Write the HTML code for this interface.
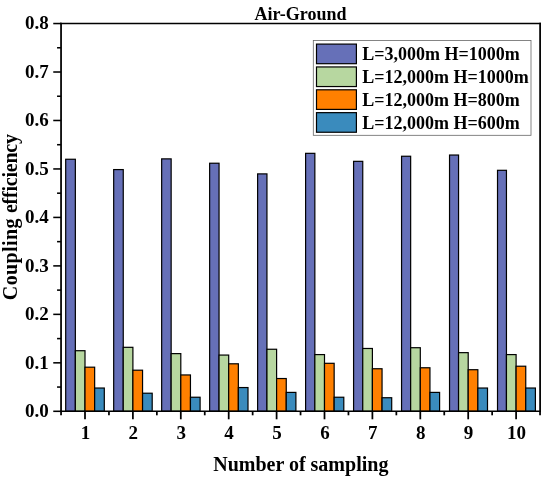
<!DOCTYPE html><html><head><meta charset="utf-8"><title>Air-Ground</title><style>html,body{margin:0;padding:0;background:#fff}svg{display:block}text{font-variant-ligatures:none;font-family:"Liberation Serif","Times New Roman",serif;font-weight:bold;fill:#000}</style></head><body>
<svg width="550" height="483" viewBox="0 0 550 483">
<rect width="550" height="483" fill="#fff"/>
<rect x="65.70" y="159.26" width="9.65" height="252.04" fill="#6670b8" stroke="#000" stroke-width="1.2"/>
<rect x="75.35" y="350.71" width="9.65" height="60.59" fill="#b7d7a0" stroke="#000" stroke-width="1.2"/>
<rect x="85.00" y="367.19" width="9.65" height="44.11" fill="#ff8000" stroke="#000" stroke-width="1.2"/>
<rect x="94.65" y="388.03" width="9.65" height="23.27" fill="#3a8bbd" stroke="#000" stroke-width="1.2"/>
<rect x="113.68" y="169.58" width="9.57" height="241.72" fill="#6670b8" stroke="#000" stroke-width="1.2"/>
<rect x="123.25" y="347.32" width="9.65" height="63.98" fill="#b7d7a0" stroke="#000" stroke-width="1.2"/>
<rect x="132.90" y="370.20" width="9.65" height="41.10" fill="#ff8000" stroke="#000" stroke-width="1.2"/>
<rect x="142.55" y="393.22" width="9.65" height="18.08" fill="#3a8bbd" stroke="#000" stroke-width="1.2"/>
<rect x="161.66" y="158.87" width="9.49" height="252.43" fill="#6670b8" stroke="#000" stroke-width="1.2"/>
<rect x="171.15" y="353.62" width="9.65" height="57.68" fill="#b7d7a0" stroke="#000" stroke-width="1.2"/>
<rect x="180.80" y="374.95" width="9.65" height="36.35" fill="#ff8000" stroke="#000" stroke-width="1.2"/>
<rect x="190.45" y="397.24" width="9.65" height="14.06" fill="#3a8bbd" stroke="#000" stroke-width="1.2"/>
<rect x="209.64" y="163.23" width="9.41" height="248.07" fill="#6670b8" stroke="#000" stroke-width="1.2"/>
<rect x="219.05" y="355.07" width="9.65" height="56.23" fill="#b7d7a0" stroke="#000" stroke-width="1.2"/>
<rect x="228.70" y="363.80" width="9.65" height="47.50" fill="#ff8000" stroke="#000" stroke-width="1.2"/>
<rect x="238.35" y="387.55" width="9.65" height="23.75" fill="#3a8bbd" stroke="#000" stroke-width="1.2"/>
<rect x="257.62" y="173.89" width="9.33" height="237.41" fill="#6670b8" stroke="#000" stroke-width="1.2"/>
<rect x="266.95" y="349.26" width="9.65" height="62.04" fill="#b7d7a0" stroke="#000" stroke-width="1.2"/>
<rect x="276.60" y="378.53" width="9.65" height="32.77" fill="#ff8000" stroke="#000" stroke-width="1.2"/>
<rect x="286.25" y="392.40" width="9.65" height="18.90" fill="#3a8bbd" stroke="#000" stroke-width="1.2"/>
<rect x="305.60" y="153.34" width="9.25" height="257.96" fill="#6670b8" stroke="#000" stroke-width="1.2"/>
<rect x="314.85" y="354.59" width="9.65" height="56.71" fill="#b7d7a0" stroke="#000" stroke-width="1.2"/>
<rect x="324.50" y="363.31" width="9.65" height="47.99" fill="#ff8000" stroke="#000" stroke-width="1.2"/>
<rect x="334.15" y="397.24" width="9.65" height="14.06" fill="#3a8bbd" stroke="#000" stroke-width="1.2"/>
<rect x="353.58" y="161.34" width="9.17" height="249.96" fill="#6670b8" stroke="#000" stroke-width="1.2"/>
<rect x="362.75" y="348.48" width="9.65" height="62.82" fill="#b7d7a0" stroke="#000" stroke-width="1.2"/>
<rect x="372.40" y="368.74" width="9.65" height="42.56" fill="#ff8000" stroke="#000" stroke-width="1.2"/>
<rect x="382.05" y="397.73" width="9.65" height="13.57" fill="#3a8bbd" stroke="#000" stroke-width="1.2"/>
<rect x="401.56" y="156.25" width="9.09" height="255.05" fill="#6670b8" stroke="#000" stroke-width="1.2"/>
<rect x="410.65" y="347.71" width="9.65" height="63.59" fill="#b7d7a0" stroke="#000" stroke-width="1.2"/>
<rect x="420.30" y="367.77" width="9.65" height="43.53" fill="#ff8000" stroke="#000" stroke-width="1.2"/>
<rect x="429.95" y="392.40" width="9.65" height="18.90" fill="#3a8bbd" stroke="#000" stroke-width="1.2"/>
<rect x="449.54" y="155.04" width="9.01" height="256.26" fill="#6670b8" stroke="#000" stroke-width="1.2"/>
<rect x="458.55" y="352.65" width="9.65" height="58.65" fill="#b7d7a0" stroke="#000" stroke-width="1.2"/>
<rect x="468.20" y="369.71" width="9.65" height="41.59" fill="#ff8000" stroke="#000" stroke-width="1.2"/>
<rect x="477.85" y="388.03" width="9.65" height="23.27" fill="#3a8bbd" stroke="#000" stroke-width="1.2"/>
<rect x="497.52" y="170.31" width="8.93" height="240.99" fill="#6670b8" stroke="#000" stroke-width="1.2"/>
<rect x="506.45" y="354.59" width="9.65" height="56.71" fill="#b7d7a0" stroke="#000" stroke-width="1.2"/>
<rect x="516.10" y="366.22" width="9.65" height="45.08" fill="#ff8000" stroke="#000" stroke-width="1.2"/>
<rect x="525.75" y="388.03" width="9.65" height="23.27" fill="#3a8bbd" stroke="#000" stroke-width="1.2"/>
<path d="M60.17 23.54H540.98M60.17 411.30H540.98" stroke="#000" stroke-width="1.55" fill="none"/>
<path d="M61.05 22.77V412.07M540.10 22.77V412.07" stroke="#000" stroke-width="1.75" fill="none"/>
<line x1="53.25" x2="61.05" y1="411.30" y2="411.30" stroke="#000" stroke-width="1.55"/>
<text x="48.8" y="417.20" font-size="19" text-anchor="end">0.0</text>
<line x1="57.05" x2="61.05" y1="387.06" y2="387.06" stroke="#000" stroke-width="1.55"/>
<line x1="53.25" x2="61.05" y1="362.83" y2="362.83" stroke="#000" stroke-width="1.55"/>
<text x="48.8" y="368.73" font-size="19" text-anchor="end">0.1</text>
<line x1="57.05" x2="61.05" y1="338.60" y2="338.60" stroke="#000" stroke-width="1.55"/>
<line x1="53.25" x2="61.05" y1="314.36" y2="314.36" stroke="#000" stroke-width="1.55"/>
<text x="48.8" y="320.26" font-size="19" text-anchor="end">0.2</text>
<line x1="57.05" x2="61.05" y1="290.12" y2="290.12" stroke="#000" stroke-width="1.55"/>
<line x1="53.25" x2="61.05" y1="265.89" y2="265.89" stroke="#000" stroke-width="1.55"/>
<text x="48.8" y="271.79" font-size="19" text-anchor="end">0.3</text>
<line x1="57.05" x2="61.05" y1="241.65" y2="241.65" stroke="#000" stroke-width="1.55"/>
<line x1="53.25" x2="61.05" y1="217.42" y2="217.42" stroke="#000" stroke-width="1.55"/>
<text x="48.8" y="223.32" font-size="19" text-anchor="end">0.4</text>
<line x1="57.05" x2="61.05" y1="193.19" y2="193.19" stroke="#000" stroke-width="1.55"/>
<line x1="53.25" x2="61.05" y1="168.95" y2="168.95" stroke="#000" stroke-width="1.55"/>
<text x="48.8" y="174.85" font-size="19" text-anchor="end">0.5</text>
<line x1="57.05" x2="61.05" y1="144.72" y2="144.72" stroke="#000" stroke-width="1.55"/>
<line x1="53.25" x2="61.05" y1="120.48" y2="120.48" stroke="#000" stroke-width="1.55"/>
<text x="48.8" y="126.38" font-size="19" text-anchor="end">0.6</text>
<line x1="57.05" x2="61.05" y1="96.25" y2="96.25" stroke="#000" stroke-width="1.55"/>
<line x1="53.25" x2="61.05" y1="72.01" y2="72.01" stroke="#000" stroke-width="1.55"/>
<text x="48.8" y="77.91" font-size="19" text-anchor="end">0.7</text>
<line x1="57.05" x2="61.05" y1="47.78" y2="47.78" stroke="#000" stroke-width="1.55"/>
<line x1="53.25" x2="61.05" y1="23.54" y2="23.54" stroke="#000" stroke-width="1.55"/>
<text x="48.8" y="29.44" font-size="19" text-anchor="end">0.8</text>
<line x1="85.00" x2="85.00" y1="411.30" y2="419.30" stroke="#000" stroke-width="1.75"/>
<text x="85.40" y="438.6" font-size="19" text-anchor="middle">1</text>
<line x1="132.90" x2="132.90" y1="411.30" y2="419.30" stroke="#000" stroke-width="1.75"/>
<text x="133.30" y="438.6" font-size="19" text-anchor="middle">2</text>
<line x1="180.80" x2="180.80" y1="411.30" y2="419.30" stroke="#000" stroke-width="1.75"/>
<text x="181.20" y="438.6" font-size="19" text-anchor="middle">3</text>
<line x1="228.70" x2="228.70" y1="411.30" y2="419.30" stroke="#000" stroke-width="1.75"/>
<text x="229.10" y="438.6" font-size="19" text-anchor="middle">4</text>
<line x1="276.60" x2="276.60" y1="411.30" y2="419.30" stroke="#000" stroke-width="1.75"/>
<text x="277.00" y="438.6" font-size="19" text-anchor="middle">5</text>
<line x1="324.50" x2="324.50" y1="411.30" y2="419.30" stroke="#000" stroke-width="1.75"/>
<text x="324.90" y="438.6" font-size="19" text-anchor="middle">6</text>
<line x1="372.40" x2="372.40" y1="411.30" y2="419.30" stroke="#000" stroke-width="1.75"/>
<text x="372.80" y="438.6" font-size="19" text-anchor="middle">7</text>
<line x1="420.30" x2="420.30" y1="411.30" y2="419.30" stroke="#000" stroke-width="1.75"/>
<text x="420.70" y="438.6" font-size="19" text-anchor="middle">8</text>
<line x1="468.20" x2="468.20" y1="411.30" y2="419.30" stroke="#000" stroke-width="1.75"/>
<text x="468.60" y="438.6" font-size="19" text-anchor="middle">9</text>
<line x1="516.10" x2="516.10" y1="411.30" y2="419.30" stroke="#000" stroke-width="1.75"/>
<text x="516.50" y="438.6" font-size="19" text-anchor="middle">10</text>
<line x1="61.05" x2="61.05" y1="411.30" y2="415.30" stroke="#000" stroke-width="1.75"/>
<line x1="108.95" x2="108.95" y1="411.30" y2="415.30" stroke="#000" stroke-width="1.75"/>
<line x1="156.85" x2="156.85" y1="411.30" y2="415.30" stroke="#000" stroke-width="1.75"/>
<line x1="204.75" x2="204.75" y1="411.30" y2="415.30" stroke="#000" stroke-width="1.75"/>
<line x1="252.65" x2="252.65" y1="411.30" y2="415.30" stroke="#000" stroke-width="1.75"/>
<line x1="300.55" x2="300.55" y1="411.30" y2="415.30" stroke="#000" stroke-width="1.75"/>
<line x1="348.45" x2="348.45" y1="411.30" y2="415.30" stroke="#000" stroke-width="1.75"/>
<line x1="396.35" x2="396.35" y1="411.30" y2="415.30" stroke="#000" stroke-width="1.75"/>
<line x1="444.25" x2="444.25" y1="411.30" y2="415.30" stroke="#000" stroke-width="1.75"/>
<line x1="492.15" x2="492.15" y1="411.30" y2="415.30" stroke="#000" stroke-width="1.75"/>
<line x1="540.05" x2="540.05" y1="411.30" y2="415.30" stroke="#000" stroke-width="1.75"/>
<text x="300.5" y="19.8" font-size="18" text-anchor="middle">Air-Ground</text>
<text x="300.8" y="471.1" font-size="20" text-anchor="middle">Number of sampling</text>
<text transform="translate(17.2,217.2) rotate(-90)" font-size="20" text-anchor="middle"><tspan letter-spacing="0.4">Coupling</tspan> <tspan letter-spacing="-0.22">efficiency</tspan></text>
<rect x="313.3" y="40.5" width="217.7" height="94.8" fill="#fff" stroke="#666" stroke-width="0.8"/>
<rect x="316.5" y="44.10" width="39.9" height="19.6" fill="#6670b8" stroke="#000" stroke-width="1.2"/>
<text x="362.2" y="59.60" font-size="18">L=3,000m H=1000m</text>
<rect x="316.5" y="66.95" width="39.9" height="19.6" fill="#b7d7a0" stroke="#000" stroke-width="1.2"/>
<text x="362.2" y="82.95" font-size="18">L=12,000m H=1000m</text>
<rect x="316.5" y="89.80" width="39.9" height="19.6" fill="#ff8000" stroke="#000" stroke-width="1.2"/>
<text x="362.2" y="105.80" font-size="18">L=12,000m H=800m</text>
<rect x="316.5" y="112.65" width="39.9" height="19.6" fill="#3a8bbd" stroke="#000" stroke-width="1.2"/>
<text x="362.2" y="128.55" font-size="18">L=12,000m H=600m</text>
</svg></body></html>
